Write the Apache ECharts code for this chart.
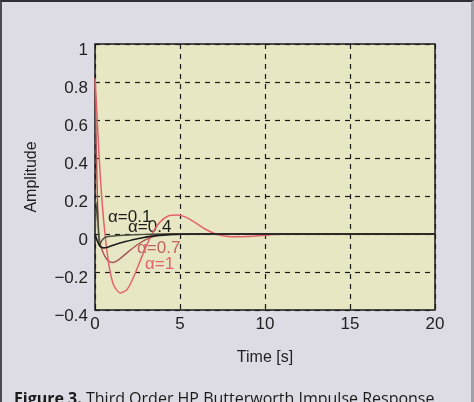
<!DOCTYPE html>
<html>
<head>
<meta charset="utf-8">
<script src="https://cdn.jsdelivr.net/npm/echarts@6/dist/echarts.min.js"></script>
<style>
  html, body { margin: 0; padding: 0; }
  body {
    width: 474px; height: 402px; overflow: hidden; position: relative;
    background: #dddce5;
  }
  .frame {
    position: absolute; left: 0; top: 0; width: 474px; height: 402px;
    box-sizing: border-box;
    border-top: 2px solid #2f2f35;
    border-left: 2px solid #4a4a52;
    border-right: 3px solid #a2a1aa;
    pointer-events: none;
  }
  #chart { position: absolute; left: 0; top: 0; width: 474px; height: 402px; }
  .caption {
    position: absolute; left: 14px; top: 387px; white-space: nowrap;
    font-family: "Open Sans", sans-serif; font-size: 16px; color: #1a1a1a;
  }
  .caption b { font-weight: 700; }
</style>
</head>
<body>
<div id="chart"></div>
<div class="caption"><b>Figure 3.</b> Third Order HP Butterworth Impulse Response</div>
<div class="frame"></div>
<script>
// values (time in s, amplitude)
const xTicks = [0, 5, 10, 15, 20]
const yTicks = [-0.4, -0.2, 0, 0.2, 0.4, 0.6, 0.8, 1]

const tAlpha01 = [0, 0.12, 0.18, 0.26, 0.4, 0.6, 0.9, 1.4, 2, 3, 4, 20]
const yAlpha01 = [0.02, 0.17, 0.05, -0.06, -0.035, -0.018, -0.012, -0.008, -0.005, -0.002, 0, 0]

const tAlpha04 = [0, 0.15, 0.3, 0.5, 0.8, 1.2, 1.8, 2.5, 3.5, 4.7, 6, 20]
const yAlpha04 = [0, -0.04, -0.065, -0.073, -0.068, -0.055, -0.04, -0.025, -0.01, -0.002, 0, 0]

const tAlpha07 = [0, 0.08, 0.16, 0.25, 0.4, 0.6, 0.8, 1.05, 1.4, 2, 2.6, 3.2, 3.8, 4.5, 20]
const yAlpha07 = [0.8, 0.45, 0.13, -0.02, -0.08, -0.12, -0.143, -0.15, -0.135, -0.09, -0.05, -0.02, -0.005, 0, 0]

const tAlpha1 = [0, 0.1, 0.2, 0.3, 0.4, 0.5, 0.65, 0.85, 1.1, 1.5, 1.9, 2.3, 2.8, 3.3, 3.8, 4.3, 4.85, 5.3, 5.9, 6.5, 7.1, 7.6, 8.3, 9, 9.8, 10.5, 11.5, 20]
const yAlpha1 = [0.82, 0.66, 0.48, 0.32, 0.19, 0.08, -0.05, -0.18, -0.27, -0.31, -0.29, -0.22, -0.11, -0.01, 0.06, 0.095, 0.1, 0.09, 0.06, 0.025, 0, -0.01, -0.015, -0.013, -0.008, -0.003, 0, 0]

const labels = ['α=0.1', 'α=0.4', 'α=0.7', 'α=1']

const zip = (ts, ys) => ts.map((t, i) => [t, ys[i]])

const chart = echarts.init(document.getElementById('chart'))
const font = '"Liberation Sans", Arial, sans-serif'

const gridLine = {
  show: true,
  lineStyle: { color: '#1a1a1a', type: [5, 5], width: 1.2 },
}

chart.setOption({
  animation: false,
  textStyle: { fontFamily: font },
  grid: { left: 95, right: 39, top: 44, bottom: 92, show: true, backgroundColor: '#e8e7c3', borderColor: '#1a1a1a', borderWidth: 1.5 },
  xAxis: {
    type: 'value', min: 0, max: 20, interval: 5,
    name: 'Time [s]', nameLocation: 'middle', nameGap: 40,
    nameTextStyle: { fontSize: 16, color: '#222' },
    axisLine: { show: false },
    axisTick: { show: false },
    axisLabel: { fontSize: 17, color: '#222', margin: 6, formatter: v => xTicks.includes(v) ? String(v) : '' },
    splitLine: gridLine,
  },
  yAxis: {
    type: 'value', min: -0.4, max: 1, interval: 0.2,
    name: 'Amplitude', nameLocation: 'middle', nameGap: 55, nameRotate: 90,
    nameTextStyle: { fontSize: 16, color: '#222' },
    axisLine: { show: false },
    axisTick: { show: false },
    axisLabel: {
      fontSize: 17, color: '#222', margin: 7, verticalAlign: 'top', lineHeight: 12,
      formatter: v => {
        const r = Math.round(v * 10) / 10
        if (!yTicks.some(t => Math.abs(t - r) < 1e-9)) return ''
        if (r === 0) return '0'
        if (r === 1) return '1'
        return (r < 0 ? '\u2212' : '') + Math.abs(r).toFixed(1)
      },
    },
    splitLine: gridLine,
  },
  series: [
    { name: labels[2], type: 'line', smooth: 0.3, showSymbol: false, data: zip(tAlpha07, yAlpha07), lineStyle: { color: '#a85452', width: 1.4 } },
    { name: labels[3], type: 'line', smooth: 0.3, showSymbol: false, data: zip(tAlpha1, yAlpha1), lineStyle: { color: '#e4626c', width: 1.5 } },
    { name: labels[0], type: 'line', smooth: 0.2, showSymbol: false, data: zip(tAlpha01, yAlpha01), lineStyle: { color: '#4a4f40', width: 1.4 } },
    { name: labels[1], type: 'line', smooth: 0.3, showSymbol: false, data: zip(tAlpha04, yAlpha04), lineStyle: { color: '#1c1c1c', width: 1.6 } },
  ],
  graphic: [
    { type: 'text', left: 108, top: 209, style: { text: labels[0], fill: '#1c1c1c', font: '17px ' + font } },
    { type: 'text', left: 128, top: 219, style: { text: labels[1], fill: '#1c1c1c', font: '17px ' + font } },
    { type: 'text', left: 137, top: 240, style: { text: labels[2], fill: '#c0625f', font: '17px ' + font } },
    { type: 'text', left: 145, top: 256, style: { text: labels[3], fill: '#e4626c', font: '17px ' + font } },
  ],
})
</script>
</body>
</html>
